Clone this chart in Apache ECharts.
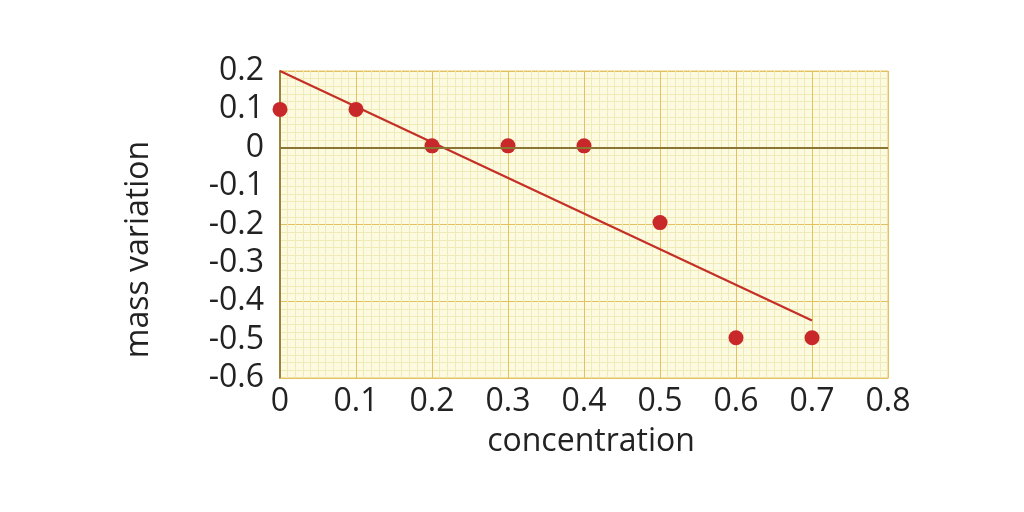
<!DOCTYPE html>
<html>
<head>
<meta charset="UTF-8">
<script src="https://cdn.jsdelivr.net/npm/echarts@6/dist/echarts.min.js"></script>
<style>
  html, body { margin: 0; padding: 0; background: #fff; }
  #chart { width: 1024px; height: 512px; }
</style>
</head>
<body>
<div id="chart"></div>
<script>
  // measured points
  const concentration = [0, 0.1, 0.2, 0.3, 0.4, 0.5, 0.6, 0.7];
  const massVariation = [0.1, 0.1, 0.005, 0.005, 0.005, -0.195, -0.495, -0.495];
  // fitted line end points
  const fitX = [0, 0.7];
  const fitY = [0.2, -0.45];

  const chart = echarts.init(document.getElementById('chart'));
  const font = '"Open Sans", "Noto Sans", sans-serif';
  const txt = { fontFamily: font, fontSize: 32, color: '#222', fontWeight: 400 };

  chart.setOption({
    animation: false,
    grid: { left: 280, right: 136, top: 71, bottom: 134, backgroundColor: '#fcfbe2', show: true, borderColor: '#e8c66a', borderWidth: 1 },
    xAxis: {
      type: 'value', min: 0, max: 0.8, interval: 0.1,
      name: 'concentration', nameLocation: 'middle', nameGap: 48,
      nameTextStyle: Object.assign({}, txt, { padding: [0, 0, 0, 14] }),
      axisLine: { show: true, onZero: false, lineStyle: { color: '#e3c060', width: 1 } },
      axisTick: { show: false },
      axisLabel: Object.assign({ margin: 8, formatter: v => +v.toFixed(1) + '' }, txt),
      splitLine: { show: true, lineStyle: { color: '#e3c060', width: 1 } },
      minorTick: { show: false, splitNumber: 10 },
      minorSplitLine: { show: true, lineStyle: { color: '#eeebb6', width: 1 } }
    },
    yAxis: {
      type: 'value', min: -0.6, max: 0.2, interval: 0.1,
      name: 'mass variation', nameLocation: 'middle', nameGap: 125, nameRotate: 90,
      nameTextStyle: Object.assign({}, txt, { padding: [0, 50, 0, 0] }),
      axisLine: { show: true, onZero: false, lineStyle: { color: '#9a8438', width: 2 } },
      axisTick: { show: false },
      axisLabel: Object.assign({ margin: 16,
        formatter: v => (Math.abs(v) < 1e-9 ? '0' : +v.toFixed(1) + '') }, txt),
      splitLine: { show: true, lineStyle: { color: ['#e3c060', '#eeebb6'], width: 1 } },
      minorTick: { show: false, splitNumber: 5 },
      minorSplitLine: { show: true, lineStyle: { color: '#eeebb6', width: 1 } }
    },
    series: [
      {
        type: 'line',
        data: fitX.map((x, i) => [x, fitY[i]]),
        showSymbol: false,
        lineStyle: { color: '#c42f26', width: 2.2 },
        markLine: {
          silent: true, symbol: 'none', label: { show: false },
          lineStyle: { color: '#8a7632', width: 2, type: 'solid' },
          data: [{ yAxis: 0 }]
        },
        z: 3
      },
      {
        type: 'scatter',
        data: concentration.map((x, i) => [x, massVariation[i]]),
        symbolSize: 15,
        itemStyle: { color: '#c8282a', opacity: 1 },
        z: 4
      }
    ]
  });
</script>
</body>
</html>
